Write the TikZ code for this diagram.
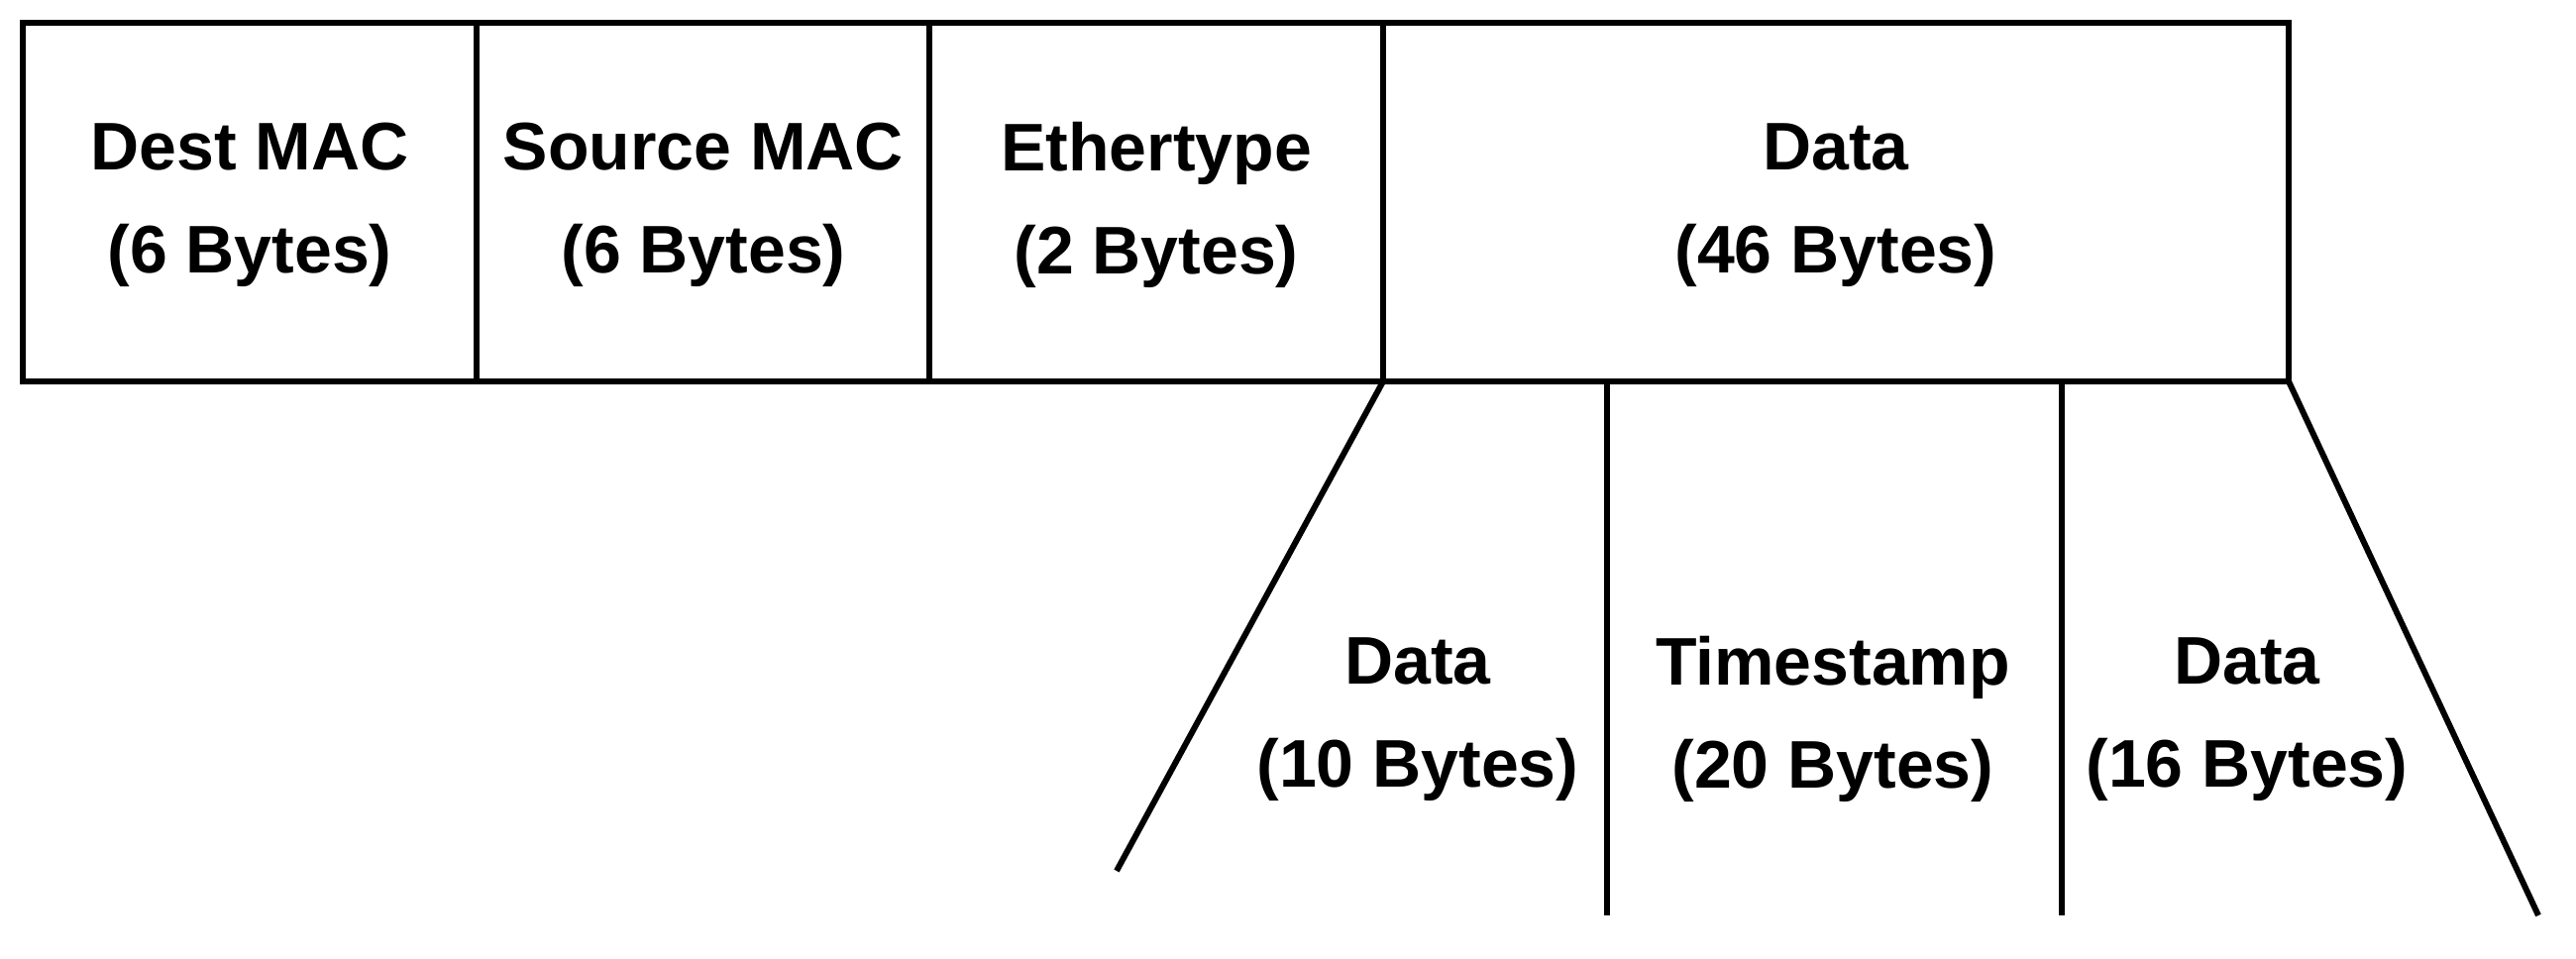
\documentclass[tikz,border=0pt]{standalone}
\usepackage{fontspec}
\setmainfont{Liberation Sans}
\begin{document}
\begin{tikzpicture}[x=1pt,y=-1pt,line width=6pt,
  lbl/.style={align=center,font=\fontsize{68}{104}\selectfont\bfseries,inner sep=0pt}]
\useasboundingbox (0,0) rectangle (2600,968);
\coordinate (tl) at (23,23); \coordinate (br) at (2310,385);
\draw (tl) rectangle (br);
\coordinate (d1t) at (481,23); \coordinate (d1b) at (481,385);
\coordinate (d2t) at (938,23); \coordinate (d2b) at (938,385);
\coordinate (d3t) at (1396,23); \coordinate (d3b) at (1396,385);
\draw (d1t) -- (d1b); \draw (d2t) -- (d2b); \draw (d3t) -- (d3b);
\node[lbl] (n1) at (252,207) {Dest MAC\\(6 Bytes)};
\node[lbl] (n2) at (710,207) {Source MAC\\(6 Bytes)};
\node[lbl] (n3) at (1167,207) {Ethertype\\(2 Bytes)};
\node[lbl] (n4) at (1853,207) {Data\\(46 Bytes)};
\coordinate (a) at (1127,879);
\coordinate (v1t) at (1622,385); \coordinate (v1b) at (1622,924);
\coordinate (v2t) at (2081,385); \coordinate (v2b) at (2081,924);
\coordinate (rb) at (2310,385); \coordinate (re) at (2562,924);
\draw (d3b) -- (a); \draw (v1t) -- (v1b); \draw (v2t) -- (v2b); \draw (rb) -- (re);
\node[lbl] (m1) at (1431,726) {Data\\(10 Bytes)};
\node[lbl] (m2) at (1850,726) {Timestamp\\(20 Bytes)};
\node[lbl] (m3) at (2268,726) {Data\\(16 Bytes)};
\end{tikzpicture}
\end{document}
